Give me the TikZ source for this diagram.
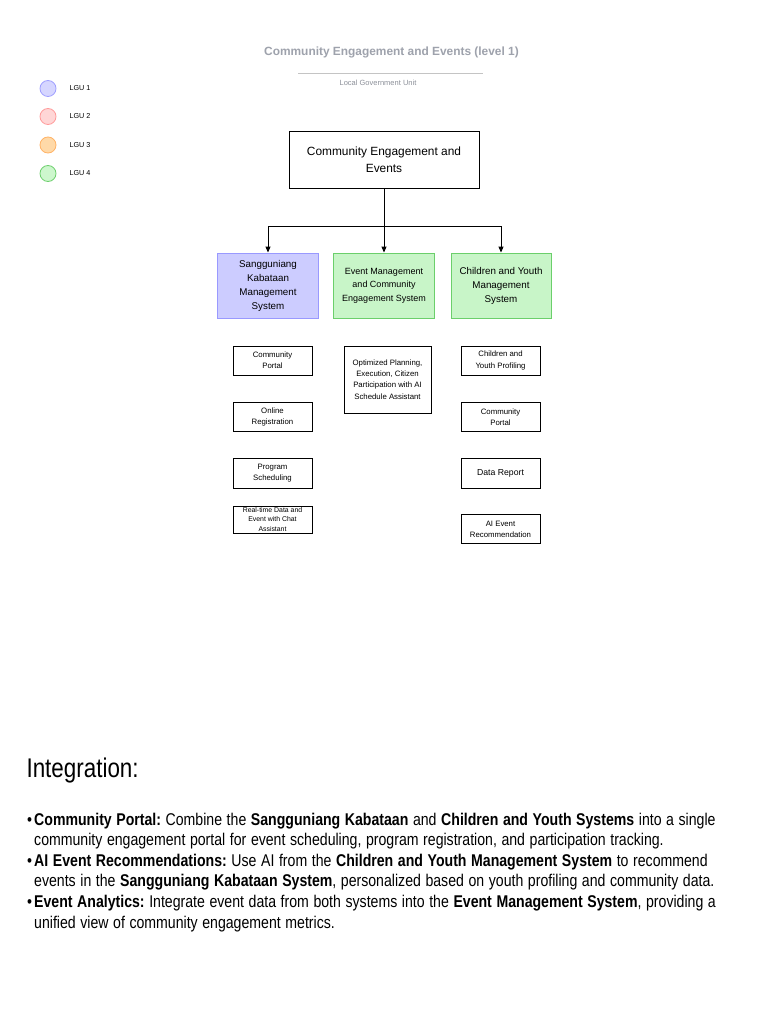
\documentclass[tikz,border=0pt]{standalone}
\usepackage{fontspec}
\setmainfont{Liberation Sans}
\newfontfamily\narrowfont{Liberation Sans}[FakeStretch=0.83]
\usetikzlibrary{arrows.meta}
\definecolor{headgray}{HTML}{9EA2AC}
\definecolor{subgray}{HTML}{8C9099}
\definecolor{rulegray}{HTML}{C4C4C4}
\definecolor{skfill}{HTML}{CCCCFF}
\definecolor{skedge}{HTML}{9999FF}
\definecolor{sysfill}{HTML}{C8F5C8}
\definecolor{sysedge}{HTML}{6BCF6B}
\definecolor{lgublue}{HTML}{D6D6FF}
\definecolor{lgublueedge}{HTML}{A0A0FF}
\definecolor{lgured}{HTML}{FFD6D6}
\definecolor{lgurededge}{HTML}{FF9C9C}
\definecolor{lguorange}{HTML}{FFD9A8}
\definecolor{lguorangeedge}{HTML}{FFB366}
\definecolor{lgugreen}{HTML}{CDF7CD}
\definecolor{lgugreenedge}{HTML}{70D070}
\newcommand{\notebullet}{\makebox[7pt][l]{\textbullet}}
\newcommand{\noteindent}{\hspace*{7pt}}

\begin{document}
\begin{tikzpicture}[x=1pt, y=-1pt, font=\fontsize{7.8}{11.3}\selectfont,
    box/.style={draw, line width=0.9pt, align=center, inner sep=0pt},
    sysbox/.style={box, minimum width=101pt, minimum height=65pt},
    leafbox/.style={box, minimum width=79pt, minimum height=29pt},
    lgudot/.style={circle, draw, line width=0.8pt, minimum size=16pt, inner sep=0pt},
    lgutext/.style={anchor=west, font=\fontsize{7.2}{8}\selectfont},
    link/.style={line width=0.9pt, -{Triangle[length=6pt,width=5pt]}}]
    \fill[white] (0,0) rectangle (768,1024);
    \useasboundingbox (0,0) rectangle (768,1024);

    % header
    \node[font=\bfseries\fontsize{11.9}{14}\selectfont, text=headgray] (title) at (391.5, 52.5) {Community Engagement and Events (level 1)};
    \draw[rulegray, line width=0.8pt] (298, 73) -- (483, 73);
    \node[font=\fontsize{7.5}{9}\selectfont, text=subgray] (lgu) at (378, 82.5) {Local Government Unit};

    % legend
    \node[lgudot, draw=lgublueedge, fill=lgublue] (dot1) at (48, 88.5) {}; \node[lgutext] (lgu1) at (66, 88.5) {LGU 1};
    \node[lgudot, draw=lgurededge, fill=lgured] (dot2) at (48, 116.5) {}; \node[lgutext] (lgu2) at (66, 116.5) {LGU 2};
    \node[lgudot, draw=lguorangeedge, fill=lguorange] (dot3) at (48, 145) {}; \node[lgutext] (lgu3) at (66, 145) {LGU 3};
    \node[lgudot, draw=lgugreenedge, fill=lgugreen] (dot4) at (48, 173.5) {}; \node[lgutext] (lgu4) at (66, 173.5) {LGU 4};

    % tree
    \node[box, minimum width=190pt, minimum height=57pt, font=\fontsize{11.9}{17}\selectfont] (root) at (384, 159.5) {Community Engagement and\\Events};
    \node[sysbox, fill=skfill, draw=skedge, font=\fontsize{9.8}{14}\selectfont] (sk) at (268, 285.5) {Sangguniang\\Kabataan\\Management\\System};
    \node[sysbox, fill=sysfill, draw=sysedge, font=\fontsize{9}{13.5}\selectfont] (em) at (384, 285.5) {Event Management\\and Community\\Engagement System};
    \node[sysbox, minimum width=100pt, fill=sysfill, draw=sysedge, font=\fontsize{9.8}{14}\selectfont] (cy) at (501, 285.5) {Children and Youth\\Management\\System};

    \coordinate (fork) at (384, 226);
    \draw[line width=0.9pt] (root) -- (fork);
    \draw[link] (fork) -| (sk.north); \draw[link] (fork) -- (em); \draw[link] (fork) -| (cy.north);

    \node[leafbox] (skportal) at (272.5, 360.5) {Community\\Portal};
    \node[leafbox] (skreg) at (272.5, 417) {Online\\Registration};
    \node[leafbox, minimum height=30pt] (sksched) at (272.5, 473) {Program\\Scheduling};
    \node[leafbox, minimum height=27pt, font=\fontsize{6.9}{9.6}\selectfont] (skchat) at (272.5, 519.5) {Real-time Data and\\Event with Chat\\Assistant};

    \node[box, minimum width=87pt, minimum height=67pt] (emplan) at (387.5, 379.5) {Optimized Planning,\\Execution, Citizen\\Participation with AI\\Schedule Assistant};

    \node[leafbox] (cyprof) at (500.5, 360.5) {Children and\\Youth Profiling};
    \node[leafbox] (cyportal) at (500.5, 417) {Community\\Portal};
    \node[leafbox, minimum height=30pt, font=\fontsize{8.7}{11}\selectfont] (cyreport) at (500.5, 473) {Data Report};
    \node[leafbox] (cyai) at (500.5, 529) {AI Event\\Recommendation};

    % integration notes
    \node[anchor=base west, font=\narrowfont\fontsize{27}{32}\selectfont] (integ) at (23, 777) {Integration:};
    \node[anchor=base west, text width=740pt, align=left, inner sep=0pt, font=\narrowfont\fontsize{17}{20.6}\selectfont] (notes) at (27, 825) {%
        \frenchspacing\spaceskip=4.6pt plus 1pt minus 1pt\relax
        \notebullet\textbf{Community Portal:} Combine the \textbf{Sangguniang Kabataan} and \textbf{Children and Youth Systems} into a single\\
        \noteindent community engagement portal for event scheduling, program registration, and participation tracking.\\
        \notebullet\textbf{AI Event Recommendations:} Use AI from the \textbf{Children and Youth Management System} to recommend\\
        \noteindent events in the \textbf{Sangguniang Kabataan System}, personalized based on youth profiling and community data.\\
        \notebullet\textbf{Event Analytics:} Integrate event data from both systems into the \textbf{Event Management System}, providing a\\
        \noteindent unified view of community engagement metrics.};
\end{tikzpicture}
\end{document}
